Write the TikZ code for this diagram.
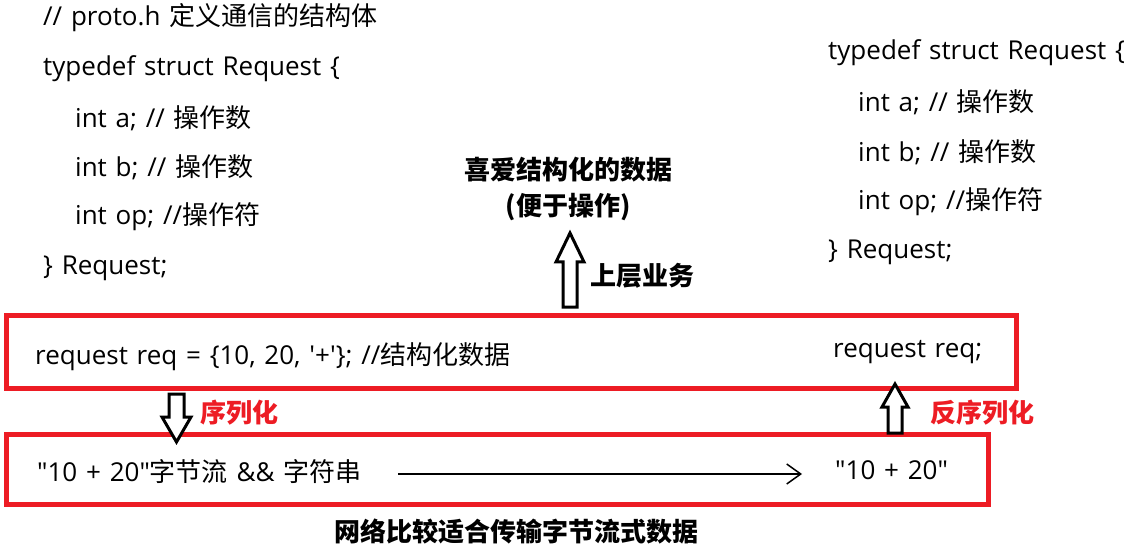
\documentclass[tikz,border=0pt]{standalone}
\usepackage{fontspec}
\newfontfamily\latinfont[WordSpace=1.3]{Open Sans}
\newfontfamily\cjkfont{Noto Sans CJK SC}
\newcommand\zh[1]{{\cjkfont\fontsize{26}{30}\selectfont #1}}
\usetikzlibrary{arrows.meta}
\definecolor{boxred}{RGB}{237,28,36}
\begin{document}
\begin{tikzpicture}[x=1pt,y=-1pt,
  txt/.style={anchor=west,inner sep=0pt,font=\latinfont\fontsize{26}{30}\selectfont},
  btxt/.style={inner sep=0pt,font=\cjkfont\fontsize{26}{30}\selectfont\bfseries},
  rtxt/.style={anchor=west,inner sep=0pt,text=boxred,font=\cjkfont\fontsize{26}{30}\selectfont\bfseries},
  redbox/.style={draw=boxred,line width=5pt},
  block/.style={draw=black,line width=3pt,fill=white,line join=miter},
  flow/.style={line width=1.5pt,-{Straight Barb[length=14pt,width=20pt,line width=1.5pt]}}]
\useasboundingbox (0,0) rectangle (1132,553);
% red boxes
\draw[redbox] (6.5,315) rectangle (1016.5,388.5);
\draw[redbox] (6.5,434.5) rectangle (988.5,504.5);
% left code
\node[txt] (l0) at (43,18) {// proto.h \zh{定义通信的结构体}};
\node[txt] (l1) at (43,69) {typedef struct Request \{};
\node[txt] (l2) at (75,118) {int a; // \zh{操作数}};
\node[txt] (l3) at (75,167) {int b; // \zh{操作数}};
\node[txt] (l4) at (75,217) {int op; //\zh{操作符}};
\node[txt] (l5) at (43,268) {\} Request;};
% right code
\node[txt] (r1) at (828,53) {typedef struct Request \{};
\node[txt] (r2) at (858,102) {int a; // \zh{操作数}};
\node[txt] (r3) at (858,152) {int b; // \zh{操作数}};
\node[txt] (r4) at (858,202) {int op; //\zh{操作符}};
\node[txt] (r5) at (828,252) {\} Request;};
% center labels
\node[btxt] (like1) at (568,170) {喜爱结构化的数据};
\node[btxt] (like2) at (568,207) {(便于操作)};
\node[btxt,anchor=west] (upper) at (590,276) {上层业务};
% box texts
\node[txt] (req) at (35,357) {request req = \{10, 20, '+'\}; //\zh{结构化数据}};
\node[txt] (req2) at (833,352) {request req;};
\node[txt] (bytes) at (37,472) {"10 + 20"\zh{字节流} \&\& \zh{字符串}};
\node[txt] (str) at (835,470) {"10 + 20"};
\node[rtxt] (ser) at (200,413) {序列化};
\node[rtxt] (deser) at (930,413) {反序列化};
\node[btxt] (net) at (516,532) {网络比较适合传输字节流式数据};
% block arrows
\draw[block] (570,233) -- (584,262) -- (577,262) -- (577,307) -- (563,307) -- (563,262) -- (556,262) -- cycle;
\draw[block] (169,394) -- (184,394) -- (184,417) -- (191,417) -- (176.5,442) -- (162,417) -- (169,417) -- cycle;
\draw[block] (895,384) -- (908,407) -- (902,407) -- (902,433) -- (888,433) -- (888,407) -- (882,407) -- cycle;
% flow arrow
\coordinate (fs) at (398,474);
\coordinate (ft) at (802,474);
\draw[flow] (fs) -- (ft);
\end{tikzpicture}
\end{document}
